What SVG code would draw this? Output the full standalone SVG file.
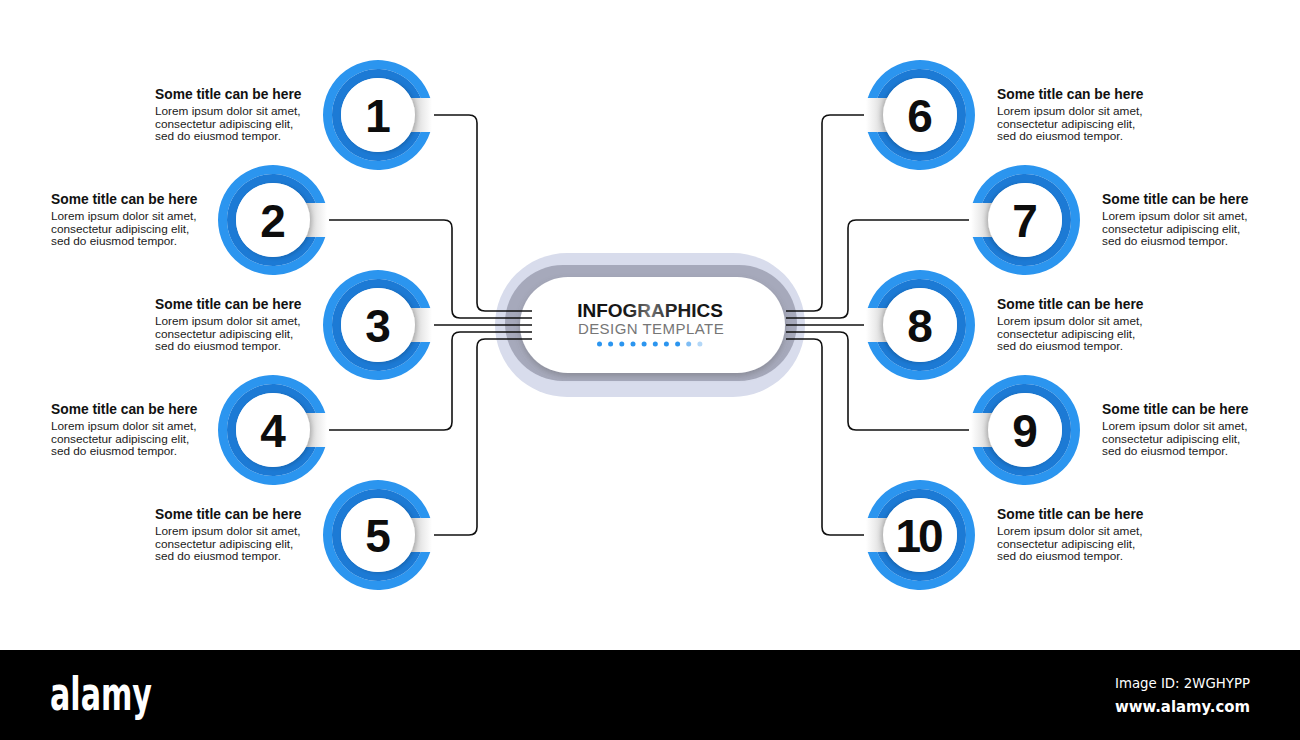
<svg xmlns="http://www.w3.org/2000/svg" xmlns:xlink="http://www.w3.org/1999/xlink" width="1300" height="740" viewBox="0 0 1300 740">
<style>
.title{font-family:"Liberation Sans",Arial,sans-serif;font-weight:bold;font-size:13.8px;fill:#111}
.body{font-family:"Liberation Sans",Arial,sans-serif;font-size:11.8px;fill:#1a1a1a}
.num{font-family:"Liberation Sans",Arial,sans-serif;font-weight:bold;font-size:46px;fill:#0d0d0d;text-anchor:middle}
.conn path{fill:none;stroke:#111;stroke-width:1.6}
.foot{font-family:"DejaVu Sans Condensed","DejaVu Sans",sans-serif;fill:#fff}
</style>
<defs>
<linearGradient id="gapShade" gradientUnits="userSpaceOnUse" x1="36" y1="0" x2="54" y2="0">
<stop offset="0" stop-color="#d4d4d4"/><stop offset="0.5" stop-color="#ececec"/><stop offset="1" stop-color="#ffffff"/>
</linearGradient>
<linearGradient id="infoGrad" x1="0" y1="0" x2="1" y2="0">
<stop offset="0" stop-color="#111"/><stop offset="0.35" stop-color="#1a1a1a"/><stop offset="0.5" stop-color="#777"/><stop offset="0.65" stop-color="#222"/><stop offset="1" stop-color="#111"/>
</linearGradient>
<filter id="wshadow" x="-30%" y="-30%" width="160%" height="160%">
<feDropShadow dx="2" dy="1" stdDeviation="2" flood-color="#000" flood-opacity="0.18"/>
</filter>
<filter id="pshadow" x="-10%" y="-20%" width="120%" height="150%">
<feDropShadow dx="0" dy="3" stdDeviation="3" flood-color="#555" flood-opacity="0.35"/>
</filter>
<g id="ring">
<path d="M52.31,-17 A55 55 0 1 0 52.31,17 L42.74,17 A46 46 0 1 1 42.74,-17 Z" fill="#2b95ef"/>
<path d="M42.74,-17 A46 46 0 1 0 42.74,17 L32.86,17 A37 37 0 1 1 32.86,-17 Z" fill="#1c7ad5"/>
<rect x="30" y="-17" width="26" height="34" fill="url(#gapShade)"/>
<circle r="37" fill="#fff" filter="url(#wshadow)"/>
</g>
</defs>
<rect width="1300" height="740" fill="#fff"/>

<g id="center">
<rect x="495" y="253" width="310" height="144" rx="72" fill="#d8dcec"/>
<rect x="505" y="265" width="292" height="116" rx="58" fill="#a6a9bb"/>
<rect x="520" y="277" width="265" height="96" rx="48" fill="#fff" filter="url(#pshadow)"/>
<text x="650" y="317" text-anchor="middle" font-family="Liberation Sans,Arial,sans-serif" font-weight="bold" font-size="19" fill="url(#infoGrad)">INFOGRAPHICS</text>
<text x="651" y="334" text-anchor="middle" font-family="Liberation Sans,Arial,sans-serif" font-size="15" letter-spacing="0.45" fill="#767676">DESIGN TEMPLATE</text>
<g fill="#2b95ef">
<circle cx="599.5" cy="344" r="2.5"/><circle cx="610.6" cy="344" r="2.5"/><circle cx="621.8" cy="344" r="2.5"/><circle cx="633" cy="344" r="2.5"/><circle cx="644.1" cy="344" r="2.5"/><circle cx="655.3" cy="344" r="2.5"/><circle cx="666.4" cy="344" r="2.5"/><circle cx="677.6" cy="344" r="2.5"/>
<circle cx="688.7" cy="344" r="2.5" fill="#7fbdf4"/><circle cx="699.9" cy="344" r="2.5" fill="#b3d7f7"/>
</g>
</g>

<g id="connectors" class="conn">
<path d="M415,115 H469 Q477,115 477,123 V303 Q477,311 485,311 H532"/>
<path d="M310,220 H444 Q452,220 452,228 V310 Q452,318 460,318 H532"/>
<path d="M415,325 H532"/>
<path d="M310,430 H444 Q452,430 452,422 V340 Q452,332 460,332 H532"/>
<path d="M415,535 H469 Q477,535 477,527 V347 Q477,339 485,339 H532"/>
<path d="M883,115 H830 Q822,115 822,123 V303 Q822,311 814,311 H786"/>
<path d="M988,220 H856 Q848,220 848,228 V310 Q848,318 840,318 H786"/>
<path d="M883,325 H786"/>
<path d="M988,430 H856 Q848,430 848,422 V340 Q848,332 840,332 H786"/>
<path d="M883,535 H830 Q822,535 822,527 V347 Q822,339 814,339 H786"/>
</g>

<g id="node-1">
<use href="#ring" transform="translate(378,115)"/>
<text class="num" x="378" y="132">1</text>
<text class="title" x="155" y="99">Some title can be here</text>
<text class="body" x="155" y="115">Lorem ipsum dolor sit amet,</text>
<text class="body" x="155" y="127.5">consectetur adipiscing elit,</text>
<text class="body" x="155" y="140">sed do eiusmod tempor.</text>
</g>
<g id="node-2">
<use href="#ring" transform="translate(273,220)"/>
<text class="num" x="273" y="237">2</text>
<text class="title" x="51" y="204">Some title can be here</text>
<text class="body" x="51" y="220">Lorem ipsum dolor sit amet,</text>
<text class="body" x="51" y="232.5">consectetur adipiscing elit,</text>
<text class="body" x="51" y="245">sed do eiusmod tempor.</text>
</g>
<g id="node-3">
<use href="#ring" transform="translate(378,325)"/>
<text class="num" x="378" y="342">3</text>
<text class="title" x="155" y="309">Some title can be here</text>
<text class="body" x="155" y="325">Lorem ipsum dolor sit amet,</text>
<text class="body" x="155" y="337.5">consectetur adipiscing elit,</text>
<text class="body" x="155" y="350">sed do eiusmod tempor.</text>
</g>
<g id="node-4">
<use href="#ring" transform="translate(273,430)"/>
<text class="num" x="273" y="447">4</text>
<text class="title" x="51" y="414">Some title can be here</text>
<text class="body" x="51" y="430">Lorem ipsum dolor sit amet,</text>
<text class="body" x="51" y="442.5">consectetur adipiscing elit,</text>
<text class="body" x="51" y="455">sed do eiusmod tempor.</text>
</g>
<g id="node-5">
<use href="#ring" transform="translate(378,535)"/>
<text class="num" x="378" y="552">5</text>
<text class="title" x="155" y="519">Some title can be here</text>
<text class="body" x="155" y="535">Lorem ipsum dolor sit amet,</text>
<text class="body" x="155" y="547.5">consectetur adipiscing elit,</text>
<text class="body" x="155" y="560">sed do eiusmod tempor.</text>
</g>
<g id="node-6">
<use href="#ring" transform="translate(920,115) scale(-1,1)"/>
<text class="num" x="920" y="132">6</text>
<text class="title" x="997" y="99">Some title can be here</text>
<text class="body" x="997" y="115">Lorem ipsum dolor sit amet,</text>
<text class="body" x="997" y="127.5">consectetur adipiscing elit,</text>
<text class="body" x="997" y="140">sed do eiusmod tempor.</text>
</g>
<g id="node-7">
<use href="#ring" transform="translate(1025,220) scale(-1,1)"/>
<text class="num" x="1025" y="237">7</text>
<text class="title" x="1102" y="204">Some title can be here</text>
<text class="body" x="1102" y="220">Lorem ipsum dolor sit amet,</text>
<text class="body" x="1102" y="232.5">consectetur adipiscing elit,</text>
<text class="body" x="1102" y="245">sed do eiusmod tempor.</text>
</g>
<g id="node-8">
<use href="#ring" transform="translate(920,325) scale(-1,1)"/>
<text class="num" x="920" y="342">8</text>
<text class="title" x="997" y="309">Some title can be here</text>
<text class="body" x="997" y="325">Lorem ipsum dolor sit amet,</text>
<text class="body" x="997" y="337.5">consectetur adipiscing elit,</text>
<text class="body" x="997" y="350">sed do eiusmod tempor.</text>
</g>
<g id="node-9">
<use href="#ring" transform="translate(1025,430) scale(-1,1)"/>
<text class="num" x="1025" y="447">9</text>
<text class="title" x="1102" y="414">Some title can be here</text>
<text class="body" x="1102" y="430">Lorem ipsum dolor sit amet,</text>
<text class="body" x="1102" y="442.5">consectetur adipiscing elit,</text>
<text class="body" x="1102" y="455">sed do eiusmod tempor.</text>
</g>
<g id="node-10">
<use href="#ring" transform="translate(920,535) scale(-1,1)"/>
<text class="num" x="918" y="552" letter-spacing="-3">10</text>
<text class="title" x="997" y="519">Some title can be here</text>
<text class="body" x="997" y="535">Lorem ipsum dolor sit amet,</text>
<text class="body" x="997" y="547.5">consectetur adipiscing elit,</text>
<text class="body" x="997" y="560">sed do eiusmod tempor.</text>
</g>

<g id="footer">
<rect x="0" y="650" width="1300" height="90" fill="#000"/>
<text class="foot" x="50" y="710" font-size="46" font-weight="bold" textLength="102" lengthAdjust="spacingAndGlyphs">alamy</text>
<text class="foot" x="1115" y="688" font-size="14" textLength="135" lengthAdjust="spacingAndGlyphs">Image ID: 2WGHYPP</text>
<text class="foot" x="1115" y="712" font-size="16" font-weight="bold" textLength="135" lengthAdjust="spacingAndGlyphs">www.alamy.com</text>
</g>
</svg>
